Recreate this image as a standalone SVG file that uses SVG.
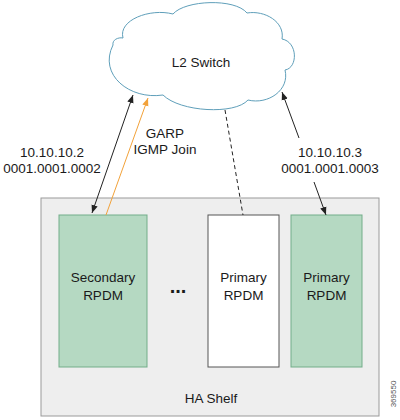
<svg xmlns="http://www.w3.org/2000/svg" width="400" height="420" viewBox="0 0 400 420">
<defs>
<style>
text{font-family:"Liberation Sans",Arial,sans-serif;font-size:13.5px;fill:#1a1a1a;text-anchor:middle}
.green{fill:#b5d9c2;stroke:#72ad89;stroke-width:1}
.white{fill:#ffffff;stroke:#555;stroke-width:1}
.ln{stroke:#222;stroke-width:1;fill:none}
</style>
<marker id="ah" viewBox="0 0 10 10" refX="10" refY="5" markerWidth="8" markerHeight="8" orient="auto-start-reverse" markerUnits="userSpaceOnUse">
<path d="M0,1 L10,5 L0,9 Z" fill="#222"/>
</marker>
<marker id="aho" viewBox="0 0 10 10" refX="10" refY="5" markerWidth="8" markerHeight="8" orient="auto" markerUnits="userSpaceOnUse">
<path d="M0,1 L10,5 L0,9 Z" fill="#f2a23a"/>
</marker>
</defs>
<rect width="400" height="420" fill="#fff"/>
<g id="shelf">
<rect x="41" y="198" width="338" height="218" fill="#eeeeee" stroke="#9a9a9a" stroke-width="1"/>
<text x="211" y="403">HA Shelf</text>
</g>
<g id="cloud">
<path d="M123,38 C118,20 150,8 173,14 C185,0 235,-2 247,13 C265,10 285,22 282,39 C298,42 298,68 285,70 C290,90 268,105 248,100 C235,115 180,112 163,95 C130,100 98,75 113,45 C112,40 118,37 123,38 Z" fill="#fff" stroke="#5f9fba" stroke-width="1"/>
<text x="201" y="67">L2 Switch</text>
</g>
<g id="secondary">
<rect class="green" x="59" y="215" width="88" height="152"/>
<text x="103" y="282">Secondary</text>
<text x="103" y="300">RPDM</text>
</g>
<g id="ellipsis"><text x="178" y="293" style="font-size:20px;font-weight:bold">...</text></g>
<g id="primary1">
<rect class="white" x="208" y="215" width="71" height="152"/>
<text x="243.5" y="282">Primary</text>
<text x="243.5" y="300">RPDM</text>
</g>
<g id="primary2">
<rect class="green" x="291" y="215" width="71" height="152"/>
<text x="326.5" y="282">Primary</text>
<text x="326.5" y="300">RPDM</text>
</g>
<g id="connectors">
<line class="ln" x1="92" y1="213" x2="133" y2="95" marker-start="url(#ah)" marker-end="url(#ah)"/>
<line x1="106" y1="215" x2="148" y2="98" stroke="#f2a23a" stroke-width="1" marker-end="url(#aho)"/>
<line class="ln" x1="225" y1="110" x2="243" y2="215" stroke-dasharray="4,3"/>
<line class="ln" x1="299" y1="138" x2="282" y2="92" marker-end="url(#ah)"/>
<line class="ln" x1="314" y1="182" x2="326" y2="215" marker-end="url(#ah)"/>
</g>
<g id="labels">
<text x="52" y="157">10.10.10.2</text>
<text x="52" y="173">0001.0001.0002</text>
<text x="165" y="138">GARP</text>
<text x="165" y="154">IGMP Join</text>
<text x="330" y="157">10.10.10.3</text>
<text x="330" y="173">0001.0001.0003</text>
</g>
<text x="396" y="394" transform="rotate(-90 396 394)" style="font-size:8px;fill:#555">369550</text>
</svg>
